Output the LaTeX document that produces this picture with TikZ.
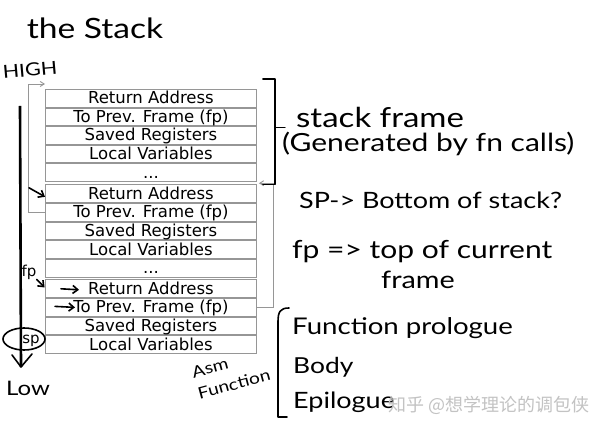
\documentclass[tikz,border=0pt]{standalone}
\usepackage{fontspec}
\setmainfont{DejaVu Sans}
\newfontfamily\hand[FakeStretch=1.2]{Lato}
\newfontfamily\cjk{Noto Sans CJK SC}
\usetikzlibrary{calc,arrows.meta}
\definecolor{boxgray}{RGB}{150,150,150}
\definecolor{wmgray}{RGB}{195,195,195}
\tikzset{
  row/.style={draw=boxgray, line width=0.9pt, minimum width=211, minimum height=17.7,
    inner sep=0, text height=12.5, text depth=1.5, anchor=north west,
    font=\fontsize{16.5}{17}\selectfont},
  link/.style={draw=boxgray, line width=0.9pt, -{Straight Barb[length=4pt,width=5pt]}},
  pen/.style={line width=1.6pt, line cap=round, line join=round},
  penarrow/.style={pen, -{Straight Barb[length=5pt,width=8pt]}},
  hw/.style={font=\hand\fontsize{#1}{#1}\selectfont, inner sep=0},
  hw/.default=22
}
\begin{document}
\begin{tikzpicture}[x=1pt,y=-1pt]
\useasboundingbox[fill=white] (0,0) rectangle (600,427);
% frame 1
\node[row] (f1r1) at (45,89) {Return Address};
\node[row] (f1r2) at (f1r1.south west) {To Prev. Frame (fp)};
\node[row] (f1r3) at (f1r2.south west) {Saved Registers};
\node[row] (f1r4) at (f1r3.south west) {Local Variables};
\node[row] (f1r5) at (f1r4.south west) {...};
% frame 2
\node[row] (f2r1) at (45,184.5) {Return Address};
\node[row] (f2r2) at (f2r1.south west) {To Prev. Frame (fp)};
\node[row] (f2r3) at (f2r2.south west) {Saved Registers};
\node[row] (f2r4) at (f2r3.south west) {Local Variables};
\node[row] (f2r5) at (f2r4.south west) {...};
% frame 3
\node[row] (f3r1) at (45,279.5) {Return Address};
\node[row] (f3r2) at (f3r1.south west) {To Prev. Frame (fp)};
\node[row] (f3r3) at (f3r2.south west) {Saved Registers};
\node[row] (f3r4) at (f3r3.south west) {Local Variables};
% gray links
\coordinate (t1) at ($(f1r1.north west)+(0,-5)$);
\coordinate (t2) at ($(f1r5.south east)!0.5!(f2r1.north east)+(2,0)$);
\draw[link] (f2r2.west) -- ++(-17,0) |- (t1);
\draw[link] (f3r2.east) -- ++(17,0) |- (t2);
% black bracket for stack frame
\coordinate (b1) at ($(f1r1.north east)+(6,-10)$);
\coordinate (b2) at ($(f2r1.north east)+(6,0)$);
\draw[pen] (b1) -- ++(12,0) -- ($(b2)+(12,0)$) -- (b2);
\coordinate (bt) at ($(b1)!0.46!(b2)+(12,0)$);
\draw[pen] (bt) -- ++(10,0);
% left direction line
\coordinate (hi) at (20,106);
\coordinate (lo) at (21,367);
\draw[line width=2.6pt] (hi) -- (lo);
\draw[pen] ($(lo)+(-9,-12)$) -- (lo) -- ($(lo)+(11,-13)$);
\node[hw=18, rotate=5] (high) at (30,70) {HIGH};
\node[hw=20] (low) at (28,388) {Low};
% sp
\node[font=\fontsize{15}{15}\selectfont, inner sep=0] (sp) at (31,341) {sp};
\draw[pen] (24,339) ellipse (21 and 11);
% fp
\node[font=\fontsize{15}{15}\selectfont, inner sep=0] (fp) at (29,272) {fp};
\draw[penarrow] (fp.south east) -- ++(8,8);
\draw[penarrow] ($(f3r1.west)+(16,0)$) -- ++(18,1);
\draw[penarrow] ($(f3r2.west)+(10,-1)$) -- ++(20,1);
\draw[penarrow] ($(f2r1.west)+(-16,-6)$) -- ($(f2r1.west)+(0,3)$);
% title
\node[hw=28] (title) at (95,28) {the Stack};
% right texts
\node[hw=27.5, anchor=west] (sf) at (296,117) {stack frame};
\node[hw=25, anchor=west] (gen) at (282,144) {(Generated by fn calls)};
\node[hw=22.5, anchor=west] (spd) at (299,200) {SP-> Bottom of stack?};
\node[hw=25, anchor=west] (fpd) at (292,252) {fp => top of current};
\node[hw=24] (fr) at (418,280) {frame};
% asm function bracket
\coordinate (a1) at (289,308);
\coordinate (a2) at (287,417);
\draw[pen] (a1) .. controls (280,308) and (278,312) .. (278,322) -- (278,417) -- (a2);
\node[hw=23, anchor=west] (fpro) at (292,328) {Function prologue};
\node[hw=22, anchor=west] (body) at (293,367) {Body};
\node[hw=22.5, anchor=west] (epi) at (293,402) {Epilogue};
\node[hw=16, rotate=15] (asm) at (210,368) {Asm};
\node[hw=16, rotate=15] (fun) at (234,384) {Function};
% watermark
\node[font=\cjk\fontsize{18}{18}\selectfont, text=wmgray, inner sep=0] (wm) at (489,405) {知乎 @想学理论的调包侠};
\end{tikzpicture}
\end{document}
